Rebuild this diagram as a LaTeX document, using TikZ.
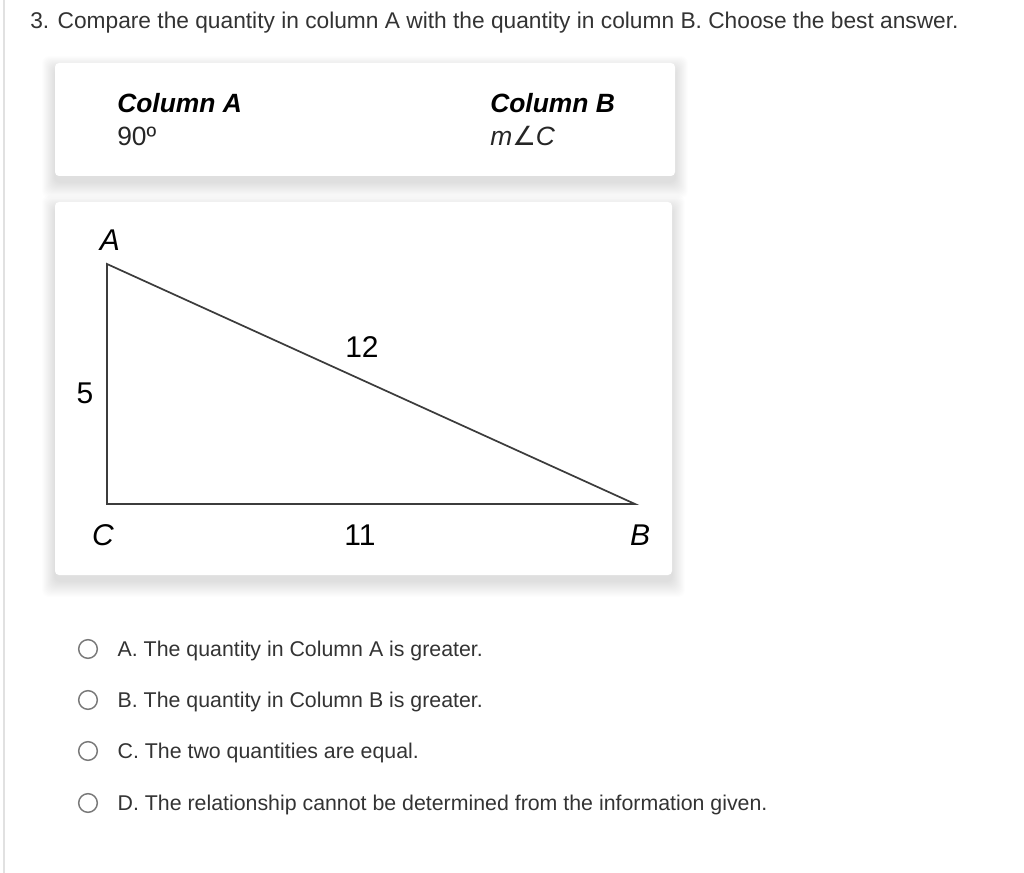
\documentclass[tikz,border=0pt]{standalone}
\usepackage{fontspec}
\setmainfont{Liberation Sans}
\newfontfamily\symfont{DejaVu Sans}
\usetikzlibrary{positioning}
\definecolor{textcolor}{RGB}{51,51,51}
\definecolor{edgecolor}{RGB}{60,60,60}
\definecolor{radiocolor}{RGB}{120,120,120}
\definecolor{bordercolor}{RGB}{225,225,225}

\begin{document}
\begin{tikzpicture}[x=0.75pt,y=-0.75pt,
  label/.style={anchor=base, inner sep=0, font=\fontsize{22.5}{26}\selectfont},
  radio/.style={circle, draw=radiocolor, line width=1.1pt, minimum size=14pt, inner sep=0},
  option/.style={inner sep=0, text height=11.4pt, text depth=0pt, text=textcolor,
    font=\fontsize{16}{19}\selectfont}]
  \useasboundingbox (0,0) rectangle (1024,873);

  % Page border
  \draw[bordercolor, line width=1.5pt] (4,0) -- (4,873);

  % Title
  \node[anchor=base west, inner sep=0, text=textcolor, font=\fontsize{17.05}{20}\selectfont] (title) at (30,29)
    {3. Compare the quantity in column A with the quantity in column B. Choose the best answer.};

  % Shadows of the two cards
  \foreach \s in {1,...,16} {
    \fill[black, opacity=0.008, rounded corners=5] (55-0.8*\s,63-0.8*\s+6) rectangle (675+0.8*\s,176+\s+6);
    \fill[black, opacity=0.008, rounded corners=5] (55-0.8*\s,202-0.8*\s+6) rectangle (672+0.8*\s,575+\s+6);
  }

  % Cards
  \fill[white, rounded corners=3] (55,63) rectangle (675,176);
  \fill[white, rounded corners=3] (55,202) rectangle (672,575);

  % Columns
  \node[anchor=base west, inner sep=0, font=\fontsize{19.8}{22}\selectfont\bfseries\itshape] (colA) at (117,113) {Column A};
  \node[anchor=base west, inner sep=0, text=black!85, font=\fontsize{19.8}{22}\selectfont] (valA) at (117,146) {90º};
  \node[anchor=base west, inner sep=0, font=\fontsize{19.8}{22}\selectfont\bfseries\itshape] (colB) at (490,113) {Column B};
  \node[anchor=base west, inner sep=0, text=black!85, font=\fontsize{19.8}{22}\selectfont\itshape] (valB) at (490,146) {m{\symfont\itshape ∠}C};

  % Triangle
  \coordinate (A) at (107,264);
  \coordinate (C) at (107,504);
  \coordinate (B) at (635,504);
  \draw[edgecolor, line width=1.3pt, line join=miter] (A) -- (C) -- (B) -- cycle;

  % Vertex labels
  \node[label, font=\fontsize{22.5}{26}\selectfont\itshape] (labA) at (110,251) {A};
  \node[label, font=\fontsize{22.5}{26}\selectfont\itshape] (labC) at (103,545) {C};
  \node[label, font=\fontsize{22.5}{26}\selectfont\itshape] (labB) at (640,545) {B};

  % Side lengths
  \node[label] (sideAC) at (85,403) {5};
  \node[label] (sideAB) at (362,358) {12};
  \node[label] (sideCB) at (360,545) {11};

  % Answer choices
  \foreach \y/\txt [count=\i] in {
    649/A. The quantity in Column A is greater.,
    700/B. The quantity in Column B is greater.,
    751/C. The two quantities are equal.,
    803/D. The relationship cannot be determined from the information given.} {
    \node[radio] (radio\i) at (88,\y) {};
    \node[option, right=14.5pt of radio\i] (opt\i) {\txt};
  }
\end{tikzpicture}
\end{document}
